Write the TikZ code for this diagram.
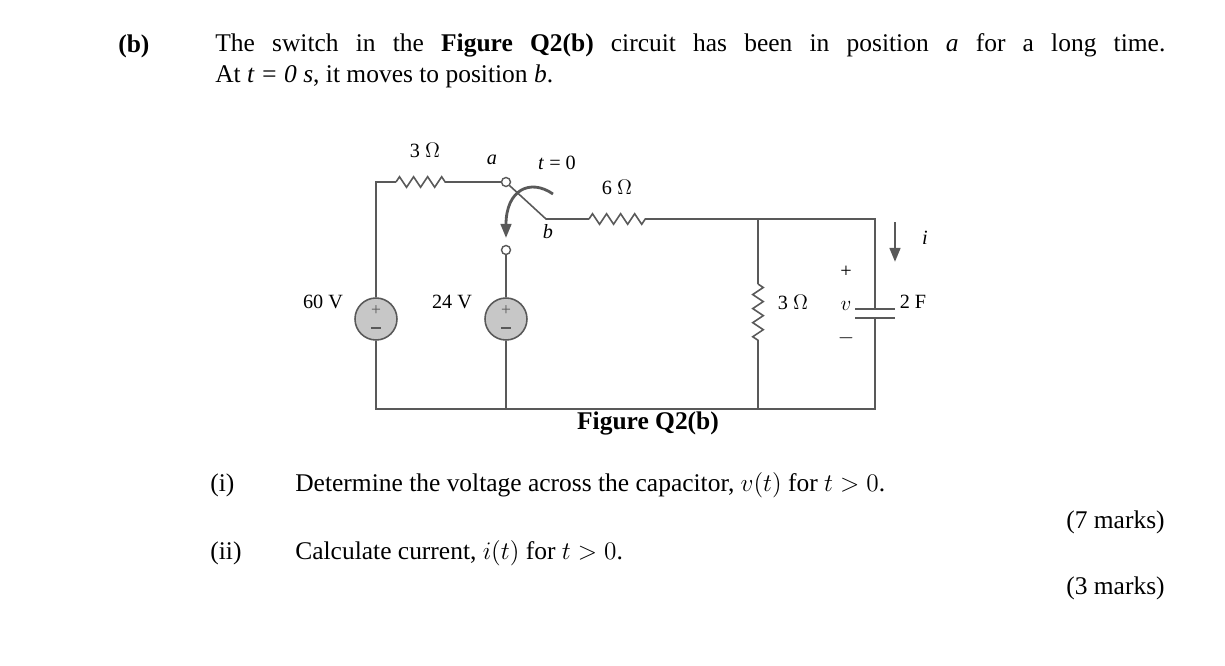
\documentclass[tikz,border=0pt]{standalone}
\usepackage{fontspec}
\setmainfont{Liberation Serif}
\usetikzlibrary{decorations.pathmorphing,arrows.meta}
\begin{document}
\begin{tikzpicture}[x=0.02cm,y=-0.02cm,
  wire/.style={draw=black!65,line width=0.9pt},
  res/.style={wire,decorate,decoration={zigzag,segment length=8pt,amplitude=3pt}},
  src/.style={circle,draw=black!65,fill=black!22,line width=0.9pt,minimum size=42*0.02cm,inner sep=0pt},
  term/.style={circle,draw=black!65,fill=white,line width=0.8pt,minimum size=9*0.02cm,inner sep=0pt},
  lbl/.style={font=\fontsize{11.5}{13}\selectfont,inner sep=0pt},
  txt/.style={font=\fontsize{14.5}{18}\selectfont,inner sep=0pt},
  arr/.style={draw=black!65,line width=1.6pt,-{Triangle[length=8pt,width=6pt]}}]
\useasboundingbox (0,0) rectangle (1225,666);
% text
\node[txt,font=\fontsize{14.5}{18}\selectfont\bfseries,anchor=base west] (tb) at (118,52) {(b)};
\node[txt,anchor=north west,text width=950*0.02cm,align=justify] (par) at (215,33)
 {The switch in the \textbf{Figure Q2(b)} circuit has been in position \textit{a} for a long time.\linebreak At \textit{t = 0 s}, it moves to position \textit{b}.};
\node[txt,font=\fontsize{14.5}{18}\selectfont\bfseries] (fig) at (648,423) {Figure Q2(b)};
\node[txt,anchor=base west] (i1) at (210,491) {(i)};
\node[txt,anchor=base west] (t1) at (295,491) {Determine the voltage across the capacitor, $v(t)$ for $t>0$.};
\node[txt,anchor=base east] (m1) at (1165,528) {(7 marks)};
\node[txt,anchor=base west] (i2) at (210,559) {(ii)};
\node[txt,anchor=base west] (t2) at (295,559) {Calculate current, $i(t)$ for $t>0$.};
\node[txt,anchor=base east] (m2) at (1165,594) {(3 marks)};
% circuit
\coordinate (tl) at (376,182);
\coordinate (bl) at (376,409);
\coordinate (r1a) at (396,182);
\coordinate (r1b) at (451,182);
\node[term] (ta) at (506,182) {};
\coordinate (b) at (546,219);
\node[term] (tb2) at (506,250) {};
\node[src] (s60) at (376,319) {};
\node[src] (s24) at (506,319) {};
\coordinate (b24) at (506,409);
\coordinate (r2a) at (589,219);
\coordinate (r2b) at (646,219);
\coordinate (tm) at (758,219);
\coordinate (r3a) at (758,284);
\coordinate (r3b) at (758,344);
\coordinate (bm) at (758,409);
\coordinate (tr) at (875,219);
\coordinate (br) at (875,409);
\coordinate (c1) at (875,309);
\coordinate (c2) at (875,318);
\draw[wire] (s60.north) -- (tl) -- (r1a);
\draw[res] (r1a) -- (r1b);
\draw[wire] (r1b) -- (ta.west);
\draw[wire] (ta.south east) -- (b) -- (r2a);
\draw[res] (r2a) -- (r2b);
\draw[wire] (r2b) -- (tr) -- (c1);
\draw[wire] (c2) -- (br) -- (bl) -- (s60.south);
\draw[wire] (tb2.south) -- (s24.north);
\draw[wire] (s24.south) -- (b24);
\draw[wire] (tm) -- (r3a);
\draw[res] (r3a) -- (r3b);
\draw[wire] (r3b) -- (bm);
\draw[wire,line width=1.1pt] ([xshift=-20*0.02cm]c1) -- ([xshift=20*0.02cm]c1);
\draw[wire,line width=1.1pt] ([xshift=-20*0.02cm]c2) -- ([xshift=20*0.02cm]c2);
\foreach \s in {s60,s24}{
  \node[lbl,font=\fontsize{10}{12}\selectfont,text=black!65] at ([yshift=8*0.02cm]\s.center) {+};
  \draw[black!65,line width=0.7pt] ([xshift=-5*0.02cm,yshift=-9*0.02cm]\s.center) -- ([xshift=5*0.02cm,yshift=-9*0.02cm]\s.center);
}
\coordinate (ca1) at (553,194);
\coordinate (ca2) at (506,238);
\draw[arr] (ca1) .. controls (530,178) and (506,190) .. (ca2);
\coordinate (ia) at (895,222);
\coordinate (ib) at (895,262);
\draw[arr] (ia) -- (ib);
% labels
\node[lbl] (l1) at (425,150) {3 $\Omega$};
\node[lbl,font=\fontsize{11.5}{13}\selectfont\itshape] (la) at (492,160) {a};
\node[lbl] (lt) at (557,163) {\textit{t} = 0};
\node[lbl] (l6) at (617,187) {6 $\Omega$};
\node[lbl,font=\fontsize{11.5}{13}\selectfont\itshape] (lb) at (548,232) {b};
\node[lbl] (l60) at (323,302) {60 V};
\node[lbl] (l24) at (452,302) {24 V};
\node[lbl] (l3) at (793,302) {3 $\Omega$};
\node[lbl] (lp) at (846,272) {+};
\node[lbl] (lv) at (846,306) {$v$};
\node[lbl] (lm) at (846,338) {$-$};
\node[lbl] (lf) at (913,302) {2 F};
\node[lbl,font=\fontsize{11.5}{13}\selectfont\itshape] (li) at (925,238) {i};
\end{tikzpicture}
\end{document}
